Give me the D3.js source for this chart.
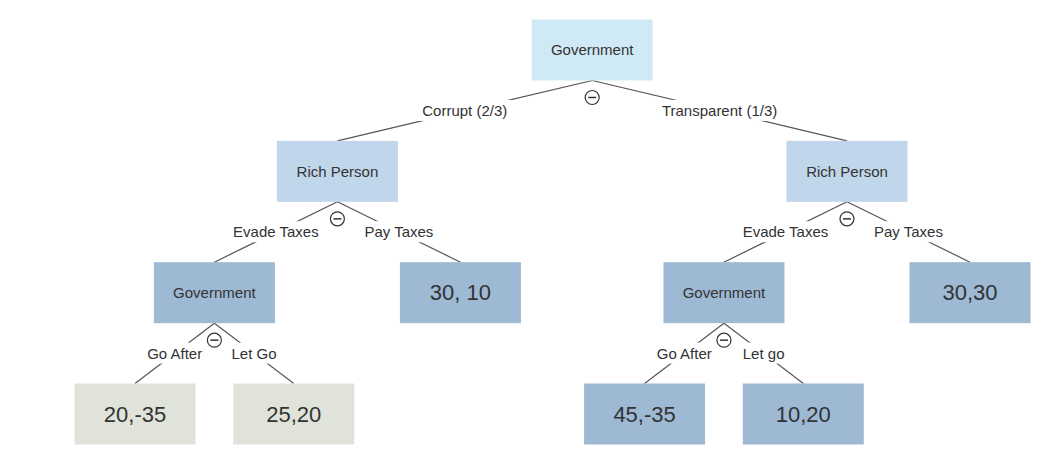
<!DOCTYPE html>
<html><head><meta charset="utf-8">
<script src="https://cdn.jsdelivr.net/npm/d3@7"></script>
<style>body{margin:0;background:#fff;font-family:"Liberation Sans",Arial,sans-serif}</style>
</head><body><svg id="chart" width="1064" height="475"></svg>
<script>
// node ids, labels, parents, edge labels, colour groups
const ids     = ["g0", "rL", "rR", "gL", "p1", "gR", "p2", "a1", "a2", "b1", "b2"];
const labels  = ["Government", "Rich Person", "Rich Person", "Government", "30,  10", "Government", "30,30", "20,-35", "25,20", "45,-35", "10,20"];
const parents = [null, "g0", "g0", "rL", "rL", "rR", "rR", "gL", "gL", "gR", "gR"];
const edgeLabels = ["", "Corrupt (2/3)", "Transparent (1/3)", "Evade Taxes", "Pay Taxes", "Evade Taxes", "Pay Taxes", "Go After", "Let Go", "Go After", "Let go"];
const groups  = ["root", "mid", "mid", "deep", "deep", "deep", "deep", "grey", "grey", "deep", "deep"];

const fills = {root: "#d0e9f6", mid: "#c0d6ea", deep: "#9db9d4", grey: "#e0e3d9"};
const boxW = 121, boxH = 61;

const rows = ids.map((id, i) => ({id, label: labels[i], parent: parents[i], edge: edgeLabels[i], group: groups[i]}));
const root = d3.stratify().id(d => d.id).parentId(d => d.parent)(rows);

d3.tree().nodeSize([1, 1])
  .separation((a, b) => a.parent === b.parent ? (a.children || b.children ? 1.55 : 1) : 1.66)(root);

const nodes = root.descendants();
const x = d3.scaleLinear().domain(d3.extent(nodes, d => d.x)).range([135, 970]);
const y = d3.scaleLinear().domain([0, 3]).range([50, 414]);

const svg = d3.select("#chart");

// links
const link = svg.append("g").selectAll("g").data(root.links()).join("g");
link.append("line")
  .attr("x1", d => x(d.source.x)).attr("y1", d => y(d.source.depth) + boxH / 2)
  .attr("x2", d => x(d.target.x)).attr("y2", d => y(d.target.depth) - boxH / 2)
  .attr("stroke", "#555").attr("stroke-width", 1.2);
link.each(function(d) {
  const g = d3.select(this);
  const mx = (x(d.source.x) + x(d.target.x)) / 2;
  const my = (y(d.source.depth) + y(d.target.depth)) / 2;
  const t = g.append("text").attr("x", mx).attr("y", my).attr("dy", "0.35em")
    .attr("text-anchor", "middle").attr("font-size", 15).attr("fill", "#333").text(d.target.data.edge);
  const bb = t.node().getBBox();
  g.insert("rect", "text").attr("x", bb.x - 4).attr("y", bb.y - 2)
    .attr("width", bb.width + 8).attr("height", bb.height + 4).attr("fill", "#fff");
});

// nodes
const node = svg.append("g").selectAll("g").data(nodes).join("g")
  .attr("transform", d => `translate(${x(d.x)},${y(d.depth)})`);
node.append("rect").attr("x", -boxW / 2).attr("y", -boxH / 2)
  .attr("width", boxW).attr("height", boxH).attr("fill", d => fills[d.data.group]);
node.append("text").attr("text-anchor", "middle").attr("dy", "0.35em")
  .attr("font-size", d => d.children ? 15 : 22).attr("fill", "#333").text(d => d.data.label);

// collapse markers
const mark = node.filter(d => d.children).append("g").attr("transform", `translate(0,${boxH / 2 + 17})`);
mark.append("circle").attr("r", 7).attr("fill", "#fff").attr("stroke", "#333").attr("stroke-width", 1.2);
mark.append("line").attr("x1", -4).attr("x2", 4).attr("stroke", "#333").attr("stroke-width", 1.5);
</script></body></html>
